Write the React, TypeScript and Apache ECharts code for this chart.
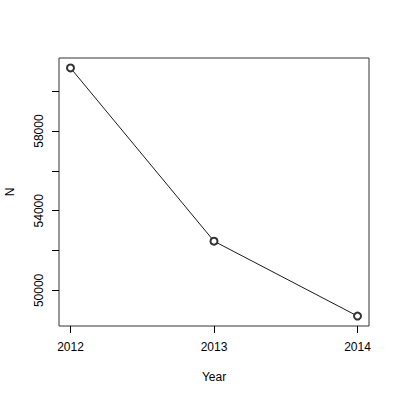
import { useEffect, useRef } from "react";
import * as echarts from "echarts";

const years = [2012, 2013, 2014];
const counts = [61170, 52470, 48710];
const yTicks = [50000, 52000, 54000, 56000, 58000, 60000];
const yLabels = [50000, 54000, 58000];

const FONT = "'Liberation Sans', Arial, sans-serif";

export default function App() {
  const ref = useRef<HTMLDivElement | null>(null);

  useEffect(() => {
    if (!ref.current) return;
    const chart = echarts.init(ref.current, undefined, { renderer: "svg" });

    // R-style axis range: data extended by 4% on each side
    const xSpan = years[years.length - 1] - years[0];
    const yMinData = Math.min(...counts);
    const yMaxData = Math.max(...counts);
    const ySpan = yMaxData - yMinData;

    chart.setOption({
      animation: false,
      backgroundColor: "#ffffff",
      textStyle: { fontFamily: FONT },
      grid: {
        left: 59,
        right: 31,
        top: 58,
        bottom: 74,
        outerBoundsMode: "none",
        show: true,
        borderColor: "#333",
        borderWidth: 1,
        backgroundColor: "transparent",
      },
      xAxis: {
        type: "value",
        min: years[0] - xSpan * 0.04,
        max: years[years.length - 1] + xSpan * 0.04,
        name: "Year",
        nameLocation: "middle",
        nameGap: 45,
        nameTextStyle: { color: "#000", fontSize: 12, fontFamily: FONT },
        axisLine: { show: false },
        splitLine: { show: false },
        axisTick: { show: true, length: 7, lineStyle: { color: "#000" }, customValues: years },
        axisLabel: { color: "#000", fontSize: 12, margin: 15, fontFamily: FONT, customValues: years, formatter: (v: number) => String(v) },
      },
      yAxis: {
        type: "value",
        min: yMinData - ySpan * 0.04,
        max: yMaxData + ySpan * 0.04,
        name: "N",
        nameLocation: "middle",
        nameGap: 43,
        nameRotate: 90,
        nameTextStyle: { color: "#000", fontSize: 12, fontFamily: FONT },
        axisLine: { show: false },
        splitLine: { show: false },
        axisTick: { show: true, length: 7, lineStyle: { color: "#000" }, customValues: yTicks },
        axisLabel: { color: "#000", fontSize: 12, margin: 14, rotate: 90, fontFamily: FONT, customValues: yLabels, formatter: (v: number) => String(v) },
      },
      series: [
        {
          type: "line",
          data: years.map((y, i) => [y, counts[i]]),
          symbol: "emptyCircle",
          symbolSize: 7,
          lineStyle: { color: "#000", width: 0.9 },
          itemStyle: { color: "#333", borderColor: "#333", borderWidth: 0.6 },
          emphasis: { disabled: true },
        },
      ],
    });

    return () => chart.dispose();
  }, []);

  return <div ref={ref} style={{ position: "fixed", left: 0, top: 0, width: 400, height: 400 }} />;
}
